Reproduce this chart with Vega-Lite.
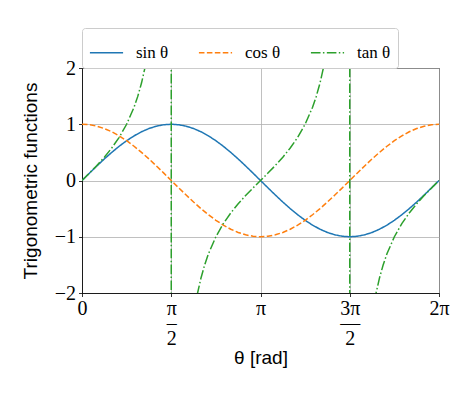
{
  "$schema": "https://vega.github.io/schema/vega-lite/v6.json",
  "width": 357,
  "height": 225,
  "autosize": {"type": "none"},
  "padding": {"left": 82, "top": 68, "right": 35, "bottom": 102},
  "background": "white",
  "datasets": {
    "sincos": [
      {"x": 0, "sin": 0, "cos": 1},
      {"x": 0.1309, "sin": 0.1305, "cos": 0.9914},
      {"x": 0.2618, "sin": 0.2588, "cos": 0.9659},
      {"x": 0.3927, "sin": 0.3827, "cos": 0.9239},
      {"x": 0.5236, "sin": 0.5, "cos": 0.866},
      {"x": 0.6545, "sin": 0.6088, "cos": 0.7934},
      {"x": 0.7854, "sin": 0.7071, "cos": 0.7071},
      {"x": 0.9163, "sin": 0.7934, "cos": 0.6088},
      {"x": 1.0472, "sin": 0.866, "cos": 0.5},
      {"x": 1.1781, "sin": 0.9239, "cos": 0.3827},
      {"x": 1.309, "sin": 0.9659, "cos": 0.2588},
      {"x": 1.4399, "sin": 0.9914, "cos": 0.1305},
      {"x": 1.5708, "sin": 1, "cos": 0},
      {"x": 1.7017, "sin": 0.9914, "cos": -0.1305},
      {"x": 1.8326, "sin": 0.9659, "cos": -0.2588},
      {"x": 1.9635, "sin": 0.9239, "cos": -0.3827},
      {"x": 2.0944, "sin": 0.866, "cos": -0.5},
      {"x": 2.2253, "sin": 0.7934, "cos": -0.6088},
      {"x": 2.3562, "sin": 0.7071, "cos": -0.7071},
      {"x": 2.4871, "sin": 0.6088, "cos": -0.7934},
      {"x": 2.618, "sin": 0.5, "cos": -0.866},
      {"x": 2.7489, "sin": 0.3827, "cos": -0.9239},
      {"x": 2.8798, "sin": 0.2588, "cos": -0.9659},
      {"x": 3.0107, "sin": 0.1305, "cos": -0.9914},
      {"x": 3.1416, "sin": 0, "cos": -1},
      {"x": 3.2725, "sin": -0.1305, "cos": -0.9914},
      {"x": 3.4034, "sin": -0.2588, "cos": -0.9659},
      {"x": 3.5343, "sin": -0.3827, "cos": -0.9239},
      {"x": 3.6652, "sin": -0.5, "cos": -0.866},
      {"x": 3.7961, "sin": -0.6088, "cos": -0.7934},
      {"x": 3.927, "sin": -0.7071, "cos": -0.7071},
      {"x": 4.0579, "sin": -0.7934, "cos": -0.6088},
      {"x": 4.1888, "sin": -0.866, "cos": -0.5},
      {"x": 4.3197, "sin": -0.9239, "cos": -0.3827},
      {"x": 4.4506, "sin": -0.9659, "cos": -0.2588},
      {"x": 4.5815, "sin": -0.9914, "cos": -0.1305},
      {"x": 4.7124, "sin": -1, "cos": 0},
      {"x": 4.8433, "sin": -0.9914, "cos": 0.1305},
      {"x": 4.9742, "sin": -0.9659, "cos": 0.2588},
      {"x": 5.1051, "sin": -0.9239, "cos": 0.3827},
      {"x": 5.236, "sin": -0.866, "cos": 0.5},
      {"x": 5.3669, "sin": -0.7934, "cos": 0.6088},
      {"x": 5.4978, "sin": -0.7071, "cos": 0.7071},
      {"x": 5.6287, "sin": -0.6088, "cos": 0.7934},
      {"x": 5.7596, "sin": -0.5, "cos": 0.866},
      {"x": 5.8905, "sin": -0.3827, "cos": 0.9239},
      {"x": 6.0214, "sin": -0.2588, "cos": 0.9659},
      {"x": 6.1523, "sin": -0.1305, "cos": 0.9914},
      {"x": 6.2832, "sin": 0, "cos": 1}
    ],
    "tanrows": [
      {"x": 0, "tan": 0},
      {"x": 0.1309, "tan": 0.1317},
      {"x": 0.2618, "tan": 0.2679},
      {"x": 0.3927, "tan": 0.4142},
      {"x": 0.5236, "tan": 0.5774},
      {"x": 0.6545, "tan": 0.7673},
      {"x": 0.7854, "tan": 1},
      {"x": 0.9163, "tan": 1.3032},
      {"x": 0.98, "tan": 1.491},
      {"x": 1.0472, "tan": 1.7321},
      {"x": 1.1071, "tan": 2.0},
      {"x": 1.1781, "tan": 2.4142},
      {"x": 1.309, "tan": 3.7321},
      {"x": 1.5698, "tan": 1000},
      {"x": 1.5718, "tan": -1000},
      {"x": 1.9635, "tan": -2.4142},
      {"x": 2.0344, "tan": -2.0},
      {"x": 2.0944, "tan": -1.7321},
      {"x": 2.16, "tan": -1.4966},
      {"x": 2.2253, "tan": -1.3032},
      {"x": 2.3562, "tan": -1},
      {"x": 2.4871, "tan": -0.7673},
      {"x": 2.618, "tan": -0.5774},
      {"x": 2.7489, "tan": -0.4142},
      {"x": 2.8798, "tan": -0.2679},
      {"x": 3.0107, "tan": -0.1317},
      {"x": 3.1416, "tan": 0},
      {"x": 3.2725, "tan": 0.1317},
      {"x": 3.4034, "tan": 0.2679},
      {"x": 3.5343, "tan": 0.4142},
      {"x": 3.6652, "tan": 0.5774},
      {"x": 3.7961, "tan": 0.7673},
      {"x": 3.927, "tan": 1},
      {"x": 4.0579, "tan": 1.3032},
      {"x": 4.12, "tan": 1.4857},
      {"x": 4.1888, "tan": 1.7321},
      {"x": 4.2487, "tan": 2.0},
      {"x": 4.3197, "tan": 2.4142},
      {"x": 4.4506, "tan": 3.7321},
      {"x": 4.7114, "tan": 1000},
      {"x": 4.7134, "tan": -1000},
      {"x": 5.1051, "tan": -2.4142},
      {"x": 5.176, "tan": -2.0},
      {"x": 5.236, "tan": -1.7321},
      {"x": 5.3, "tan": -1.503},
      {"x": 5.3669, "tan": -1.3032},
      {"x": 5.4978, "tan": -1},
      {"x": 5.6287, "tan": -0.7673},
      {"x": 5.7596, "tan": -0.5774},
      {"x": 5.8905, "tan": -0.4142},
      {"x": 6.0214, "tan": -0.2679},
      {"x": 6.1523, "tan": -0.1317},
      {"x": 6.2832, "tan": 0}
    ]
  },
  "encoding": {
    "x": {
      "field": "x", "type": "quantitative",
      "scale": {"domain": [0, 6.2832], "nice": false, "zero": false},
      "axis": {
        "values": [0, 1.5708, 3.1416, 4.7124, 6.2832],
        "labelExpr": "datum.value < 0.5 ? '0' : datum.value < 2 ? ['π', '–', '2'] : datum.value < 4 ? 'π' : datum.value < 5 ? ['3π', '—', '2'] : '2π'",
        "title": "θ [rad]",
        "titleFont": "Liberation Sans",
        "titleFontSize": 19,
        "titleFontWeight": "normal",
        "titleColor": "black",
        "titlePadding": 0,
        "labelFont": "Liberation Serif",
        "labelFontSize": 20,
        "labelLineHeight": 15,
        "labelColor": "black",
        "labelPadding": 2,
        "labelFlush": false,
        "labelOverlap": false,
        "tickColor": "black",
        "tickSize": 3.5,
        "tickWidth": 0.8,
        "domainColor": "black",
        "domainWidth": 0.8,
        "grid": true,
        "gridColor": "#b0b0b0",
        "gridWidth": 0.8
      }
    },
    "y": {
      "field": "y", "type": "quantitative",
      "scale": {"domain": [-2, 2], "nice": false},
      "axis": {
        "values": [-2, -1, 0, 1, 2],
        "format": "d",
        "title": "Trigonometric functions",
        "titleFont": "Liberation Sans",
        "titleFontSize": 19,
        "titleFontWeight": "normal",
        "titleColor": "black",
        "titlePadding": 14,
        "labelFont": "Liberation Serif",
        "labelFontSize": 20,
        "labelColor": "black",
        "labelPadding": 3,
        "labelFlush": false,
        "labelOverlap": false,
        "tickColor": "black",
        "tickSize": 3.5,
        "tickWidth": 0.8,
        "domainColor": "black",
        "domainWidth": 0.8,
        "grid": true,
        "gridColor": "#b0b0b0",
        "gridWidth": 0.8
      }
    },
    "color": {
      "field": "f", "type": "nominal",
      "scale": {"domain": ["sin", "cos", "tan"], "range": ["#1f77b4", "#ff7f0e", "#2ca02c"]},
      "legend": {
        "orient": "none",
        "legendX": 0,
        "legendY": -40,
        "direction": "horizontal",
        "columns": 3,
        "title": null,
        "labelExpr": "datum.label + ' θ'",
        "symbolType": "stroke",
        "symbolSize": 1100,
        "symbolStrokeWidth": 1.5,
        "labelFont": "Liberation Serif",
        "labelFontSize": 17,
        "labelColor": "black",
        "labelOffset": 12,
        "columnPadding": 26,
        "padding": 7,
        "strokeColor": "#cccccc",
        "fillColor": "white",
        "cornerRadius": 3
      }
    },
    "strokeDash": {
      "field": "f", "type": "nominal",
      "scale": {"domain": ["sin", "cos", "tan"], "range": [[1, 0], [5.55, 2.4], [9.6, 2.4, 1.5, 2.4]]},
      "legend": null
    }
  },
  "layer": [
    {
      "data": {"name": "sincos"},
      "transform": [{"fold": ["sin", "cos"], "as": ["f", "y"]}],
      "mark": {"type": "line", "clip": true, "strokeWidth": 1.5}
    },
    {
      "data": {"name": "tanrows"},
      "transform": [{"fold": ["tan"], "as": ["f", "y"]}],
      "mark": {"type": "line", "clip": true, "strokeWidth": 1.5}
    }
  ],
  "config": {
    "view": {"stroke": "black", "strokeWidth": 1}
  }
}
